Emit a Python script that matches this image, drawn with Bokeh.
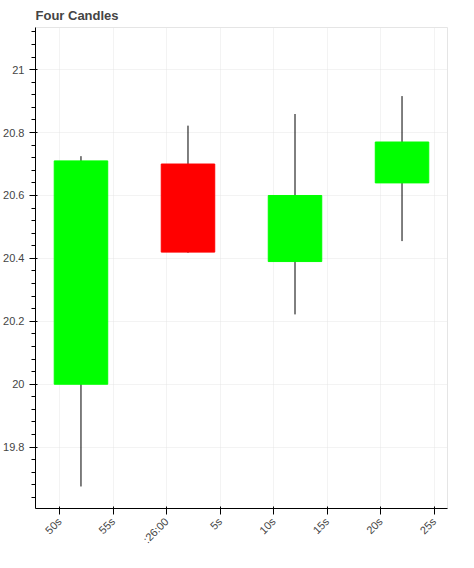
import math
import pandas as pd
from bokeh.plotting import figure
from bokeh.models import Range1d, DatetimeTickFormatter
from bokeh.embed import file_html
from bokeh.resources import INLINE

# data
times = ["2023-01-01 10:25:52", "2023-01-01 10:26:02", "2023-01-01 10:26:12", "2023-01-01 10:26:22"]
opens = [20.00, 20.70, 20.39, 20.64]
closes = [20.71, 20.42, 20.60, 20.77]
highs = [20.725, 20.822, 20.859, 20.916]
lows = [19.675, 20.418, 20.222, 20.455]

df = pd.DataFrame({"date": pd.to_datetime(times), "open": opens, "close": closes,
                   "high": highs, "low": lows})
inc = df.close > df.open
dec = df.open > df.close
w = 5000  # ms

p = figure(x_axis_type="datetime", width=452, height=552, title="Four Candles",
           output_backend="svg", toolbar_location=None,
           y_range=Range1d(19.605, 21.134))
p.xaxis.major_label_orientation = math.pi / 4
p.xaxis.formatter = DatetimeTickFormatter(seconds="%Ss", minsec=":%M:%S", context=None,
                                          strip_leading_zeros=True)
p.grid.grid_line_alpha = 0.45

p.segment(df.date, df.high, df.date, df.low, color="black")
p.vbar(df.date[inc], w, df.open[inc], df.close[inc], fill_color="#00FF00", line_color="#00FF00")
p.vbar(df.date[dec], w, df.open[dec], df.close[dec], fill_color="#FF0000", line_color="#FF0000")

open("out.html", "w").write(file_html(p, INLINE))
